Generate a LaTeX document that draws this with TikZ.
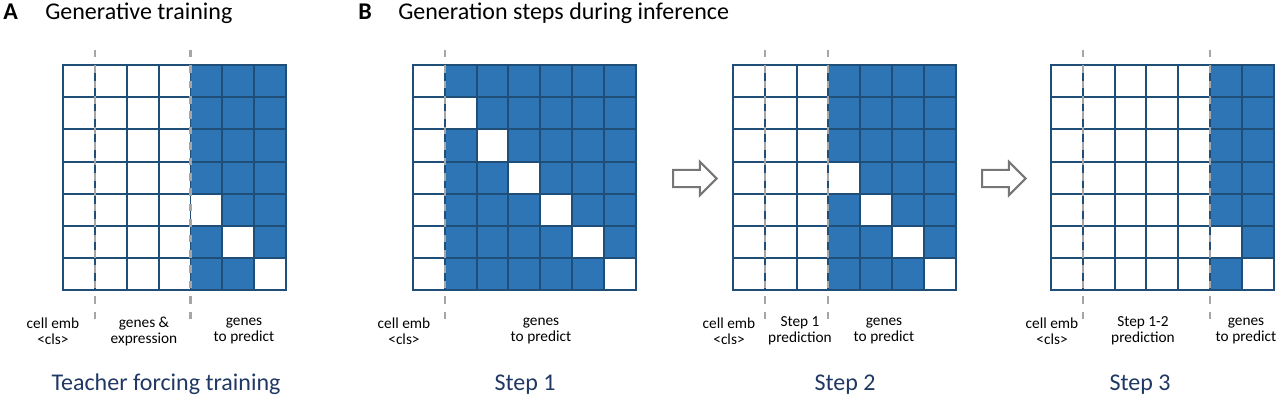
\documentclass[tikz,border=0pt]{standalone}
\usepackage{fontspec}
\setmainfont{Carlito}
\usetikzlibrary{shapes.arrows}
\definecolor{CellBlue}{RGB}{46,117,182}
\definecolor{LineBlue}{RGB}{31,78,121}
\definecolor{TitleBlue}{RGB}{32,56,100}
\definecolor{CutGray}{RGB}{166,166,166}
\definecolor{ArrowGray}{RGB}{118,118,118}
\def\CellBlue{CellBlue}
\def\LineBlue{LineBlue}
\def\TitleBlue{TitleBlue}
\def\CutGray{CutGray}

\newcommand{\genegrid}[3]{%
  \begin{scope}[shift={(#1,65)}, x=23.85pt, y=-24.15pt]
    \fill[\CellBlue] (#2,0) rectangle (7,7);
    \foreach \i in {#2,...,6} \fill[white] (\i,\i) rectangle ++(1,1);
    \foreach \i in {0,...,7} \draw[cell] (\i,0) -- (\i,7) (0,\i) -- (7,\i);
    \foreach \i in {#3} \draw[cut] (\i,-0.47) -- (\i,7.92);
  \end{scope}}

\begin{document}
\begin{tikzpicture}
    [x=0.75pt, y=-0.75pt,
     cell/.style={draw=\LineBlue, line width=1.4pt, line cap=rect},
     cut/.style={draw=\CutGray, line width=1.6pt, dash pattern=on 5.7pt off 5.85pt},
     lbl/.style={align=center, inner sep=0pt, font=\fontsize{11.5}{12}\selectfont},
     head/.style={anchor=base west, inner sep=0pt, font=\fontsize{18}{22}\selectfont},
     steptitle/.style={anchor=base, inner sep=0pt, text=\TitleBlue, font=\fontsize{18}{22}\selectfont},
     nextarrow/.style={single arrow, draw=ArrowGray, line width=1.5pt, fill=white, inner sep=5.8pt,
       minimum height=32.6pt, single arrow head extend=6pt},
    ]
    \useasboundingbox (0,0) rectangle (1280,399);
    \genegrid{63.3}{4}{1,4}
    \genegrid{413}{1}{1}
    \genegrid{733}{3}{1,3}
    \genegrid{1051}{5}{1,5}

    \node[head, font=\fontsize{18}{22}\selectfont\bfseries] (labA) at (3,20) {A};
    \node[head] (headA) at (45,20) {Generative training};
    \node[head, font=\fontsize{18}{22}\selectfont\bfseries] (labB) at (358,20) {B};
    \node[head] (headB) at (398,20) {Generation steps during inference};

    \node[lbl] (embA) at (53,331) {cell emb\\<cls>};
    \node[lbl] (exprA) at (144,331) {genes \&\\expression};
    \node[lbl] (predA) at (244,331) {genes\\to predict};
    \node[lbl] (embB1) at (404,331) {cell emb\\<cls>};
    \node[lbl] (predB1) at (541,331) {genes\\to predict};
    \node[lbl] (embB2) at (729,331) {cell emb\\<cls>};
    \node[lbl] (stepB2) at (800,331) {Step 1\\prediction};
    \node[lbl] (predB2) at (884,331) {genes\\to predict};
    \node[lbl] (embB3) at (1052,331) {cell emb\\<cls>};
    \node[lbl] (stepB3) at (1143,331) {Step 1-2\\prediction};
    \node[lbl] (predB3) at (1246,331) {genes\\to predict};

    \node[steptitle] (capA) at (166,390) {Teacher forcing training};
    \node[steptitle] (capB1) at (525,390) {Step 1};
    \node[steptitle] (capB2) at (845,390) {Step 2};
    \node[steptitle] (capB3) at (1140,390) {Step 3};

    \node[nextarrow] (arr1) at (690.5,178.5) {};
    \node[nextarrow] (arr2) at (999.5,178.5) {};
  \end{tikzpicture}
\end{document}
